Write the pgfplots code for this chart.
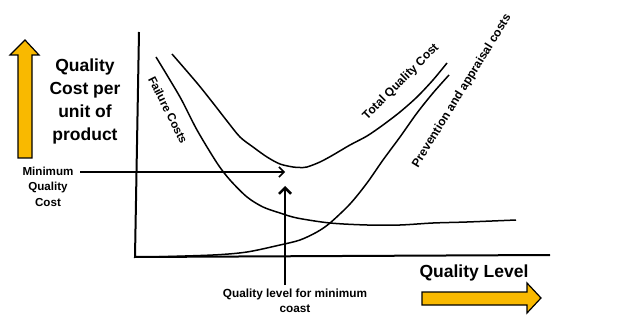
\documentclass[border=0pt]{standalone}
\usepackage{pgfplots}
\pgfplotsset{compat=1.18}
\usepackage{fontspec}
\setmainfont{Liberation Sans}
\usetikzlibrary{arrows.meta}
\definecolor{gold}{RGB}{249,185,0}
\begin{document}
\begin{tikzpicture}
\begin{axis}[
  width=625pt, height=330pt, scale only axis,
  xmin=0, xmax=625, ymin=0, ymax=330,
  hide axis, clip=false,
]
% invisible frame
\addplot[draw=none] coordinates {(0,0) (625,330)};
% axes
\addplot[black, line width=2pt] coordinates {(139,298) (135,73) (550,75)};
% Failure costs
\addplot[black, line width=1.5pt, smooth, tension=0.5] coordinates {
(156,273) (180,233) (197,200) (217,167) (230,150) (247,133) (263,123) (280,117)
(297,112) (330,107) (367,105) (400,105) (433,107) (467,108) (516,110)};
% Total quality cost
\addplot[black, line width=1.5pt, smooth, tension=0.5] coordinates {
(172,276) (197,247) (213,227) (227,209) (240,193) (253,183) (267,173) (280,166)
(293,163) (300,162.5) (307,163) (320,168) (333,175) (350,185) (367,194)
(383,205) (400,218) (417,233) (433,250) (447,267)};
% Prevention and appraisal costs
\addplot[black, line width=1.5pt, smooth, tension=0.5] coordinates {
(150,73) (213,75) (247,78) (280,85) (300,90) (317,98) (330,107) (350,126)
(367,147) (383,170) (400,193) (417,217) (433,237) (449,255)};
% orange arrows
\draw[fill=gold, draw=black, line width=1.2pt, line join=miter]
  (axis cs:18,172) -- (axis cs:32,172) -- (axis cs:32,275) -- (axis cs:39,275)
  -- (axis cs:25,290) -- (axis cs:10,275) -- (axis cs:18,275) -- cycle;
\draw[fill=gold, draw=black, line width=1.2pt, line join=miter]
  (axis cs:422,25) -- (axis cs:527,25) -- (axis cs:527,17) -- (axis cs:541,32)
  -- (axis cs:527,47) -- (axis cs:527,38) -- (axis cs:422,38) -- cycle;
% black arrows
\draw[line width=1.5pt, -{Straight Barb[length=5pt,width=10pt]}] (axis cs:80,158) -- (axis cs:285,158);
\draw[line width=2.5pt, -{Straight Barb[length=6pt,width=12pt]}] (axis cs:285,45) -- (axis cs:285,144);
% texts
\node[align=center, font=\fontsize{17.5}{23}\selectfont\bfseries] at (axis cs:85,228.5)
  {Quality\\Cost per\\unit of\\product};
\node[align=center, font=\fontsize{11.6}{15.5}\selectfont\bfseries] at (axis cs:48,143.5)
  {Minimum\\Quality\\Cost};
\node[align=center, font=\fontsize{11.8}{15}\selectfont\bfseries] at (axis cs:295,29.5)
  {Quality level for minimum\\coast};
\node[font=\fontsize{17.5}{21}\selectfont\bfseries] at (axis cs:474,57) {Quality Level};
\node[rotate=-63.4, font=\fontsize{11.6}{14}\selectfont\bfseries] at (axis cs:168,220) {Failure Costs};
\node[rotate=45, font=\fontsize{12}{14}\selectfont\bfseries] at (axis cs:401,248) {Total Quality Cost};
\node[rotate=58.3, font=\fontsize{12}{14}\selectfont\bfseries] at (axis cs:462,239) {Prevention and appraisal costs};
\end{axis}
\end{tikzpicture}
\end{document}
